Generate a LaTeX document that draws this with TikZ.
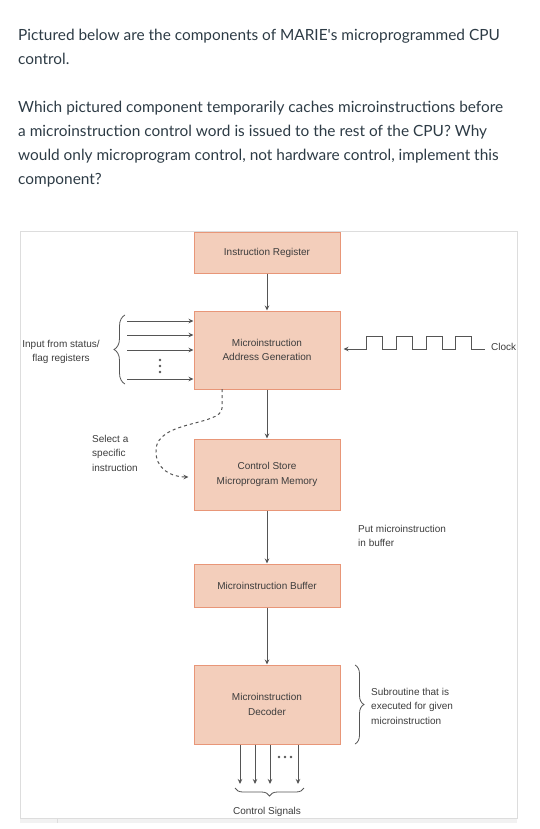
\documentclass[tikz,border=0pt]{standalone}
\usepackage{fontspec}
\setmainfont{Lato}
\newfontfamily\diagfont{Liberation Sans}
\usetikzlibrary{arrows.meta, decorations.pathreplacing}

\definecolor{boxfill}{RGB}{243,206,187}
\definecolor{boxline}{RGB}{232,150,120}
\definecolor{wiregray}{RGB}{85,85,85}
\definecolor{ink}{RGB}{60,60,60}
\definecolor{qtext}{RGB}{45,59,69}
\definecolor{framegray}{RGB}{221,221,221}

\begin{document}
\begin{tikzpicture}[x=1pt,y=-1pt,
    block/.style={rectangle,draw=boxline,fill=boxfill,line width=1pt,minimum width=146pt,align=center,text=ink,font=\diagfont\fontsize{10}{14.5}\selectfont},
    lbl/.style={align=left,text=ink,inner sep=0pt,font=\diagfont\fontsize{10}{14.5}\selectfont},
    qlines/.style={anchor=base west,align=left,inner sep=0pt,text=qtext,font=\fontsize{15.4}{24}\selectfont},
    arr/.style={draw=wiregray,line width=1pt,-{Stealth[length=5pt,width=4.5pt]}},
    wire/.style={draw=wiregray,line width=1pt},
    brc/.style={draw=wiregray,line width=.8pt,decoration={brace,amplitude=#1},decorate}]
        \useasboundingbox (0,0) rectangle (539,829);
        \node[qlines] (intro) at (18,64.5) {Pictured below are the components of MARIE\textquotesingle s microprogrammed CPU\\control.};
        \node[qlines] (question) at (18,184.5) {Which pictured component temporarily caches microinstructions before\\a microinstruction control word is issued to the rest of the CPU? Why\\would only microprogram control, not hardware control, implement this\\component?};
        \draw[framegray,line width=1pt] (20,231) rectangle (517,818);
        \fill[black!5] (20,818.5) rectangle (517,823);
        \draw[framegray] (57,818) -- (57,823);
        \node[block,minimum height=41pt] (IR) at (267,252.5) {Instruction Register};
        \node[block,minimum height=78pt] (MAG) at (267,350) {Microinstruction\\Address Generation};
        \node[block,minimum height=71pt] (CS) at (267,474.5) {Control Store\\Microprogram Memory};
        \node[block,minimum height=43pt] (MB) at (267,585.5) {Microinstruction Buffer};
        \node[block,minimum height=79pt] (MD) at (267,704.5) {Microinstruction\\Decoder};
        \draw[arr] (IR) -- (MAG);
        \draw[arr] (MAG) -- (CS);
        \draw[arr] (CS) -- (MB);
        \draw[arr] (MB) -- (MD);
        \foreach \y [count=\i] in {321,335,350,379} {
            \coordinate (in\i) at (127,\y);
            \draw[arr] (in\i) -- (in\i -| MAG.west);
        }
        \foreach \y in {360,366,372} \fill[wiregray] (160,\y) circle (1.4pt);
        \draw[brc=11pt] (125,384) -- (125,315);
        \node[lbl,align=center] (inputs) at (61,352) {Input from status/\\flag registers};
        \coordinate (clk) at (348,349);
        \draw[arr,shorten >=3pt] (clk) -- (clk -| MAG.east);
        \draw[wire] (clk) \foreach \s in {366,396,426,455} { -- (\s,349) -- (\s,336) -- (\s+16,336) -- (\s+16,349) } -- (485,349);
        \node[lbl,anchor=west] (clock) at (491,347) {Clock};
        \coordinate (sel) at (222,389);
        \draw[arr,dashed,shorten >=5pt] (sel) -- (222,408) .. controls (222,426) and (157,420) .. (156,450) .. controls (155,468) and (170,477) .. (CS.west |- 0,477);
        \node[lbl,anchor=west] (select) at (92,453) {Select a\\specific\\instruction};
        \node[lbl,anchor=west] (put) at (358,536) {Put microinstruction\\in buffer};
        \draw[brc=9pt] (355,665) -- (355,744);
        \node[lbl,anchor=west] (sub) at (371,706) {Subroutine that is\\executed for given\\microinstruction};
        \foreach \x [count=\i] in {240,255,270,298} {
            \coordinate (sig\i) at (\x,784);
            \draw[arr] (sig\i |- MD.south) -- (sig\i);
        }
        \foreach \x in {279,285,291} \fill[wiregray] (\x,757) circle (1.4pt);
        \draw[brc=8pt] (304,788) -- (235,788);
        \node[lbl] (signals) at (267,812) {Control Signals};
    \end{tikzpicture}
\end{document}
